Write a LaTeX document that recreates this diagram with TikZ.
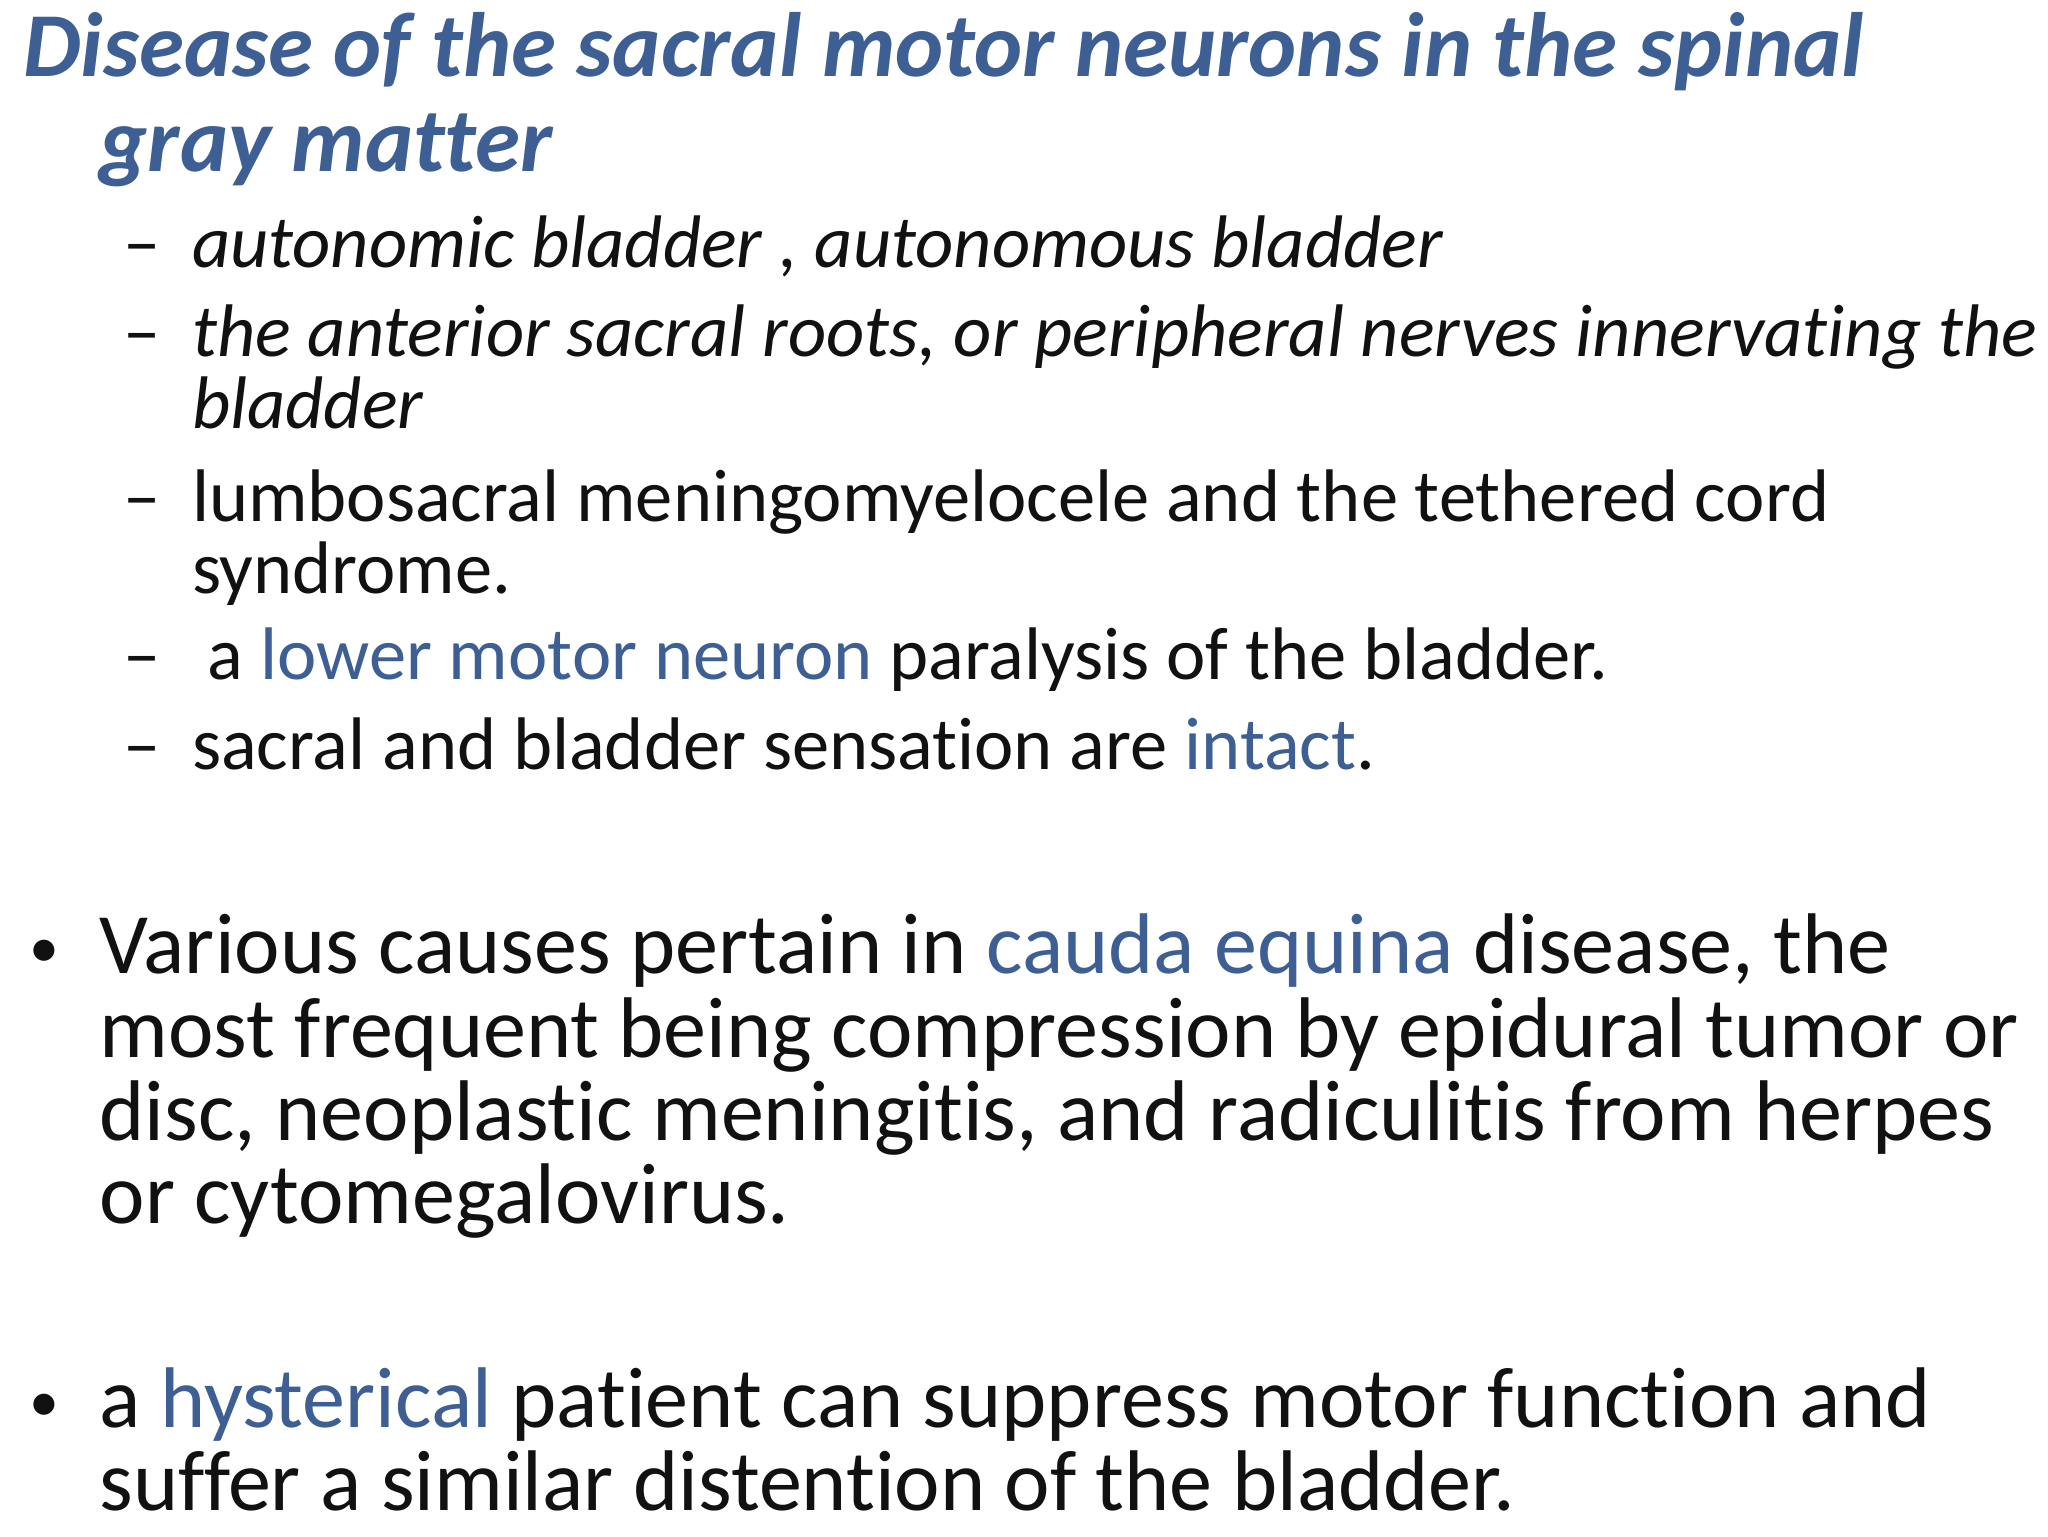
\documentclass[tikz,border=0pt]{standalone}
\usepackage{fontspec}
\setmainfont{Carlito}[Ligatures={NoCommon,TeX}]
\definecolor{tblue}{HTML}{3D5F94}
\definecolor{tdark}{HTML}{111111}
\begin{document}
\begin{tikzpicture}[x=0.013196cm,y=-0.013196cm,
  ln/.style={anchor=base west,inner sep=0,text=tdark},
  ttl/.style={ln,text=tblue,font=\fontsize{26}{30}\selectfont\bfseries\itshape},
  sub/.style={ln,font=\fontsize{21.2}{24}\selectfont},
  subi/.style={ln,font=\fontsize{21.2}{24}\selectfont\itshape},
  big/.style={ln,font=\fontsize{24.5}{30}\selectfont}]
\useasboundingbox (0,0) rectangle (1552,1164);
\fill[white] (0,0) rectangle (1552,1164);
\node[ttl] (t1) at (17,58) {Disease of the sacral motor neurons in the spinal};
\node[ttl] (t2) at (75,130) {gray matter};
\foreach \y/\n in {203/d1,270/d2,395/d3,515/d4,583/d5}
  \node[sub] (\n) at (93,\y) {\textendash};
\node[subi] (s1) at (145,203) {autonomic bladder , autonomous bladder};
\node[subi] (s2) at (145,270) {the anterior sacral roots, or peripheral nerves innervating the};
\node[subi] (s2b) at (145,325) {bladder};
\node[sub] (s3) at (145,395) {lumbosacral meningomyelocele and the tethered cord};
\node[sub] (s3b) at (145,450) {syndrome.};
\node[sub] (s4) at (157,515) {a \textcolor{tblue}{lower motor neuron} paralysis of the bladder.};
\node[sub] (s5) at (145,583) {sacral and bladder sensation are \textcolor{tblue}{intact}.};
\node[ln,font=\fontsize{17}{20}\selectfont] (b1) at (22,733) {•};
\node[big] (v1) at (75,738) {Various causes pertain in \textcolor{tblue}{cauda equina} disease, the};
\node[big] (v2) at (75,801) {most frequent being compression by epidural tumor or};
\node[big] (v3) at (75,864) {disc, neoplastic meningitis, and radiculitis from herpes};
\node[big] (v4) at (75,927) {or cytomegalovirus.};
\node[ln,font=\fontsize{17}{20}\selectfont] (b2) at (22,1077) {•};
\node[big] (h1) at (75,1082) {a \textcolor{tblue}{hysterical} patient can suppress motor function and};
\node[big] (h2) at (75,1145) {suffer a similar distention of the bladder.};
\end{tikzpicture}
\end{document}
